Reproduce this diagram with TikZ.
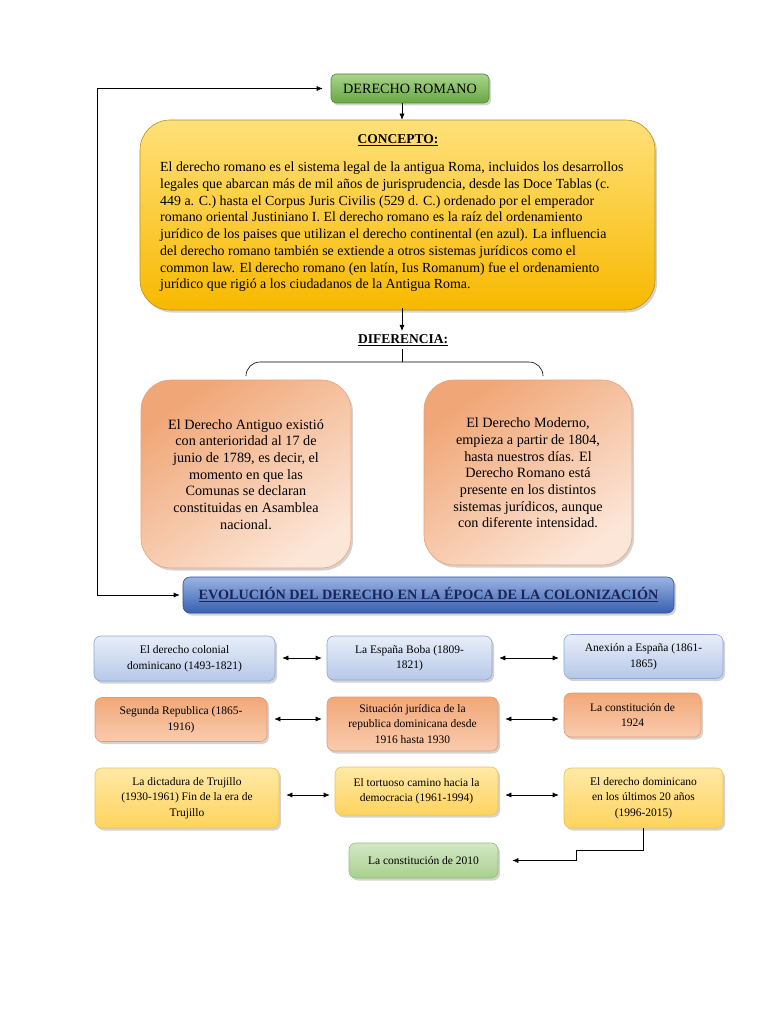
\documentclass[tikz,border=0pt]{standalone}
\usepackage{fontspec}
\setmainfont{Liberation Serif}
\usetikzlibrary{arrows.meta,shadows,positioning}

\definecolor{greenTop}{HTML}{A9D48C}
\definecolor{greenBot}{HTML}{68A843}
\definecolor{greenLine}{HTML}{4E8A2E}
\definecolor{goldTop}{HTML}{FFE07A}
\definecolor{goldBot}{HTML}{F7B900}
\definecolor{goldLine}{HTML}{B8901A}
\definecolor{peachDark}{HTML}{F0A676}
\definecolor{peachLight}{HTML}{FCE6D8}
\definecolor{peachLine}{HTML}{E9A27A}
\definecolor{navyTop}{HTML}{9AB3E3}
\definecolor{navyBot}{HTML}{3760B0}
\definecolor{navyLine}{HTML}{2E4F8F}
\definecolor{navyText}{HTML}{1A2456}
\definecolor{skyTop}{HTML}{E8EEF9}
\definecolor{skyBot}{HTML}{B6C8E8}
\definecolor{skyLine}{HTML}{8EA7D6}
\definecolor{sandTop}{HTML}{F2A878}
\definecolor{sandBot}{HTML}{F9CBAE}
\definecolor{sandLine}{HTML}{E29B6F}
\definecolor{lemonTop}{HTML}{FFE9A6}
\definecolor{lemonBot}{HTML}{FFD35E}
\definecolor{lemonLine}{HTML}{EFC253}
\definecolor{mintTop}{HTML}{D3E8C6}
\definecolor{mintBot}{HTML}{A8D08D}
\definecolor{mintLine}{HTML}{93BE78}

\tikzset{
    box/.style={draw, semithick, rounded corners=7pt, align=center, inner sep=0pt,
        drop shadow={opacity=0.35, shadow xshift=2pt, shadow yshift=-2.5pt},
        font=\fontsize{11.5}{15.5}\selectfont},
    romanbox/.style={box, draw=greenLine, top color=greenTop, bottom color=greenBot,
        rounded corners=5pt, font=\fontsize{14.2}{16}\selectfont},
    conceptbox/.style={box, draw=goldLine, top color=goldTop, bottom color=goldBot,
        rounded corners=30pt},
    diffbox/.style={box, draw=peachLine, top color=peachDark, bottom color=peachLight,
        shading angle=35, rounded corners=30pt, font=\fontsize{14.2}{16.7}\selectfont},
    evolbox/.style={box, draw=navyLine, top color=navyTop, bottom color=navyBot,
        rounded corners=7pt, text=navyText, font=\bfseries\fontsize{14.2}{16}\selectfont},
    skybox/.style={box, draw=skyLine, top color=skyTop, bottom color=skyBot},
    sandbox/.style={box, draw=sandLine, top color=sandTop, bottom color=sandBot},
    lemonbox/.style={box, draw=lemonLine, top color=lemonTop, bottom color=lemonBot},
    mintbox/.style={box, draw=mintLine, top color=mintTop, bottom color=mintBot},
    tip/.style={-{Latex[length=6pt,width=5pt]}, semithick},
    link/.style={{Latex[length=6pt,width=5pt]}-{Latex[length=6pt,width=5pt]}, semithick,
        shorten <=7pt, shorten >=5pt},
}

\begin{document}
\begin{tikzpicture}[x=1pt,y=-1pt]
    \useasboundingbox (0,0) rectangle (768,1024);

    % upper part
    \node[romanbox, minimum width=158, minimum height=29] (roman) at (410,88.5) {DERECHO ROMANO};
    \node[conceptbox, minimum width=515, minimum height=190] (concept) at (397.5,215) {};
    \node[font=\bfseries\fontsize{13.5}{15}\selectfont] (conctitle) at (398,140) {\underline{CONCEPTO:}};
    \node[anchor=west, align=left, inner sep=0pt, font=\fontsize{13.9}{16.7}\selectfont] (conctext) at (160,227) {%
        El derecho romano es el sistema legal de la antigua Roma, incluidos los desarrollos\\
        legales que abarcan más de mil años de jurisprudencia, desde las Doce Tablas (c.\\
        449 a. C.) hasta el Corpus Juris Civilis (529 d. C.) ordenado por el emperador\\
        romano oriental Justiniano I. El derecho romano es la raíz del ordenamiento\\
        jurídico de los paises que utilizan el derecho continental (en azul). La influencia\\
        del derecho romano también se extiende a otros sistemas jurídicos como el\\
        common law. El derecho romano (en latín, Ius Romanum) fue el ordenamiento\\
        jurídico que rigió a los ciudadanos de la Antigua Roma.};
    \node[font=\bfseries\fontsize{13.5}{15}\selectfont] (difer) at (403,340) {\underline{DIFERENCIA:}};

    \node[diffbox, minimum width=210, minimum height=188] (antiguo) at (246,474) {%
        \\[-6pt]El Derecho Antiguo existió\\ con anterioridad al 17 de\\ junio de 1789, es decir, el\\
        momento en que las\\ Comunas se declaran\\ constituidas en Asamblea\\ nacional.};
    \node[diffbox, minimum width=208, minimum height=185] (moderno) at (528,472.5) {%
        \\[-6pt]El Derecho Moderno,\\ empieza a partir de 1804,\\ hasta nuestros días. El\\
        Derecho Romano está\\ presente en los distintos\\ sistemas jurídicos, aunque\\ con diferente intensidad.};

    \node[evolbox, minimum width=491, minimum height=36] (evol) at (428.5,595) {%
        \raisebox{3pt}{\underline{EVOLUCIÓN DEL DERECHO EN LA ÉPOCA DE LA COLONIZACIÓN}}};

    % timeline rows
    \node[skybox, minimum width=181, minimum height=45] (colonial) at (184.5,658.5) {El derecho colonial\\ dominicano (1493-1821)};
    \node[skybox, minimum width=165, minimum height=44] (boba) at (409.5,658) {La España Boba (1809-\\ 1821)};
    \node[skybox, minimum width=159, minimum height=44] (anexion) at (643.5,656.5) {Anexión a España (1861-\\ 1865)};

    \node[sandbox, minimum width=172, minimum height=44] (segunda) at (181,719.5) {Segunda Republica (1865-\\ 1916)};
    \node[sandbox, minimum width=171, minimum height=54] (situacion) at (412.5,724) {Situación jurídica de la\\ republica dominicana desde\\ 1916 hasta 1930};
    \node[sandbox, minimum width=137, minimum height=44] (const1924) at (632.5,715) {La constitución de\\ 1924};

    \node[lemonbox, minimum width=184, minimum height=60] (trujillo) at (187,798) {La dictadura de Trujillo\\ (1930-1961) Fin de la era de\\ Trujillo};
    \node[lemonbox, minimum width=163, minimum height=48] (camino) at (416.5,791) {El tortuoso camino hacia la\\ democracia (1961-1994)};
    \node[lemonbox, minimum width=159, minimum height=60] (ultimos) at (643.5,798) {El derecho dominicano\\ en los últimos 20 años\\ (1996-2015)};

    \node[mintbox, minimum width=149, minimum height=35] (const2010) at (423.5,860.5) {La constitución de 2010};

    % connectors
    \coordinate (loop) at (97,595);
    \coordinate (brace) at (402,362);
    \coordinate (bl) at (246,375);
    \coordinate (br) at (543,375);
    \coordinate (stepa) at (576,850);
    \coordinate (row1) at (0,658);
    \coordinate (row2) at (0,719);
    \coordinate (row3) at (0,795);

    \draw[tip] (roman.south -| brace) -- (concept.north -| brace);
    \draw[tip] ([yshift=2pt]concept.south -| brace) -- (difer.north -| brace);
    \draw[semithick] (difer.south -| brace) -- (brace);
    \draw[semithick, rounded corners=14pt] (bl) |- (brace) -| (br);
    \draw[{Latex[length=6pt,width=5pt]}-{Latex[length=6pt,width=5pt]}, semithick, shorten <=3pt, shorten >=8pt]
        (evol.west) -- (loop) |- (roman.west);

    \draw[link] (colonial.east |- row1) -- (boba.west |- row1);
    \draw[link] (boba.east |- row1) -- (anexion.west |- row1);
    \draw[link] (segunda.east |- row2) -- (situacion.west |- row2);
    \draw[link] (situacion.east |- row2) -- (const1924.west |- row2);
    \draw[link] (trujillo.east |- row3) -- (camino.west |- row3);
    \draw[link] (camino.east |- row3) -- (ultimos.west |- row3);
    \draw[tip, shorten >=14pt] (ultimos.south) |- (stepa) |- (const2010.east);
\end{tikzpicture}
\end{document}
